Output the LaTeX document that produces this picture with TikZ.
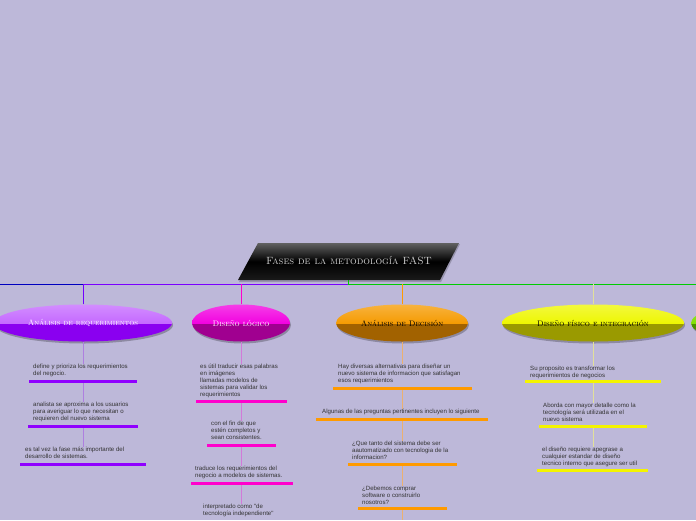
\documentclass[tikz,border=0pt]{standalone}
\usepackage{fontspec}
\usetikzlibrary{shapes.geometric}
\newfontfamily\subfont{Liberation Sans}
\definecolor{bg}{HTML}{BDB8D9}
\definecolor{purA}{HTML}{C468FF}
\definecolor{purB}{HTML}{8A00F0}
\definecolor{purL}{HTML}{9000FF}
\definecolor{purC}{HTML}{AE7FE0}
\definecolor{magA}{HTML}{F200E0}
\definecolor{magB}{HTML}{A00090}
\definecolor{magL}{HTML}{FF00CC}
\definecolor{magC}{HTML}{D27AD8}
\definecolor{oraA}{HTML}{F59A00}
\definecolor{oraB}{HTML}{A26200}
\definecolor{oraL}{HTML}{FF9A00}
\definecolor{oraC}{HTML}{EBB070}
\definecolor{yelA}{HTML}{EEF600}
\definecolor{yelB}{HTML}{9A9A00}
\definecolor{yelL}{HTML}{F4F400}
\definecolor{yelC}{HTML}{E2E09A}
\definecolor{grnA}{HTML}{80E000}
\definecolor{grnB}{HTML}{4A9000}
\definecolor{txt}{HTML}{333333}
\tikzset{
  sub/.style={anchor=north west,inner sep=0pt,align=left,text=txt,
    font=\subfont\fontsize{6.1}{7}\selectfont},
  ulpur/.style={line width=3pt,purL},
  ulmag/.style={line width=3pt,magL},
  ulora/.style={line width=3pt,oraL},
  ulyel/.style={line width=3pt,yelL},
  cpur/.style={line width=1pt,purC},
  cmag/.style={line width=1pt,magC},
  cora/.style={line width=1pt,oraC},
  cyel/.style={line width=1pt,yelC},
  ovaltext/.style={font=\fontsize{8}{9}\selectfont\scshape},
}
\newcommand\phaseoval[8]{%
  \fill[black,opacity=0.25] (#2+1,-325) ellipse [x radius=#3, y radius=18.5];
  \begin{scope}
    \clip (#2,-323) ellipse [x radius=#3, y radius=18.5];
    \shade[top color=#4!75!white,bottom color=#4] (#2-#3,-304) rectangle (#2+#3,-324);
    \fill[#5] (#2-#3,-324) rectangle (#2+#3,-342);
  \end{scope}
  \node[ellipse,minimum width={2*#3},minimum height=37,inner sep=0pt,text=#6,ovaltext] (#1) at (#2,-323) {#7};
  \draw[line width=1pt,#8] (#1.north) -- (#1.north |- top);
}
\begin{document}
\begin{tikzpicture}[x=1pt,y=1pt]
\useasboundingbox (0,0) rectangle (696,-520);
\clip (0,0) rectangle (696,-520);
\fill[bg] (0,0) rectangle (696,-520);
% title
\fill[black,opacity=0.2] (259,-244) -- (460,-244) -- (441,-282) -- (239,-282) -- cycle;
\shade[top color=black!62,bottom color=black!90,middle color=black] (258,-243) -- (459,-243) -- (440,-280) -- (238,-280) -- cycle;
\node[text=black!18,font=\fontsize{10.5}{12}\selectfont\scshape] (title) at (349,-261) {Fases de la metodología FAST};
\coordinate (top) at (348,-284);
\coordinate (tb) at (348,-280);
% main lines
\draw[line width=1pt,blue!75!black] (0,-284) -- (83,-284);
\draw[line width=1pt,purL!85!blue] (83,-284) -- (top);
\draw[line width=1pt,green!80!black] (tb) -- (top) -- (696,-284);
% ovals
\phaseoval{e1}{83}{89}{purA}{purB}{white}{Análisis de requerimientos}{purL!80!blue}
\phaseoval{e2}{241}{49}{magA}{magB}{white}{Diseño lógico}{magL}
\phaseoval{e3}{402}{66}{oraA}{oraB}{black}{Análisis de Decisión}{oraL}
\phaseoval{e4}{593}{91}{yelA}{yelB}{black}{Diseño físico e integración}{yelC}
\phaseoval{e5}{756}{65}{grnA}{grnB}{black}{}{green!80!black}
% branch 1
\node[sub] (t11) at (33,-364) {define y prioriza los requerimientos\\del negocio.};
\node[sub] (t12) at (33,-402) {analista se aproxima a los usuarios\\para averiguar lo que necesitan o\\requieren del nuevo sistema};
\node[sub] (t13) at (25,-447) {es tal vez la fase más importante del\\desarrollo de sistemas.};
\coordinate (u11) at (83,-381); \coordinate (u12) at (83,-426); \coordinate (u13) at (83,-464);
\draw[cpur] (e1.south) -- (e1.south |- t11.north);
\draw[cpur] (u11) -- (u11 |- t12.north);
\draw[cpur] (u12) -- (u12 |- t13.north);
\draw[ulpur] (29,-381) -- (137,-381);
\draw[ulpur] (28,-426) -- (138,-426);
\draw[ulpur] (20,-464) -- (146,-464);
% branch 2
\node[sub] (t21) at (200,-364) {es útil traducir esas palabras\\en imágenes\\llamadas modelos de\\sistemas para validar los\\requerimientos};
\node[sub] (t22) at (211,-421) {con el fin de que\\estén completos y\\sean consistentes.};
\node[sub] (t23) at (195,-466) {traduce los requerimientos del\\negocio a modelos de sistemas.};
\node[sub] (t24) at (203,-504) {interpretado como "de\\tecnología independiente"};
\coordinate (u21) at (241,-401); \coordinate (u22) at (241,-445); \coordinate (u23) at (241,-483);
\draw[cmag] (e2.south) -- (e2.south |- t21.north);
\draw[cmag] (u21) -- (u21 |- t22.north);
\draw[cmag] (u22) -- (u22 |- t23.north);
\draw[cmag] (u23) -- (u23 |- t24.north);
\draw[ulmag] (196,-401) -- (287,-401);
\draw[ulmag] (207,-445) -- (276,-445);
\draw[ulmag] (191,-483) -- (293,-483);
% branch 3
\node[sub] (t31) at (338,-364) {Hay diversas alternativas para diseñar un\\nuevo sistema de informacion que satisfagan\\esos requerimientos};
\node[sub] (t32) at (322,-409) {Algunas de las preguntas pertinentes incluyen lo siguiente};
\node[sub] (t33) at (352,-441) {¿Que tanto del sistema debe ser\\aautomatizado con tecnologia de la\\informacion?};
\node[sub] (t34) at (362,-486) {¿Debemos comprar\\software o construirlo\\nosotros?};
\coordinate (u31) at (402,-388); \coordinate (u32) at (402,-419); \coordinate (u33) at (402,-464); \coordinate (u34) at (402,-508);
\coordinate (b3) at (402,-520);
\draw[cora] (e3.south) -- (e3.south |- t31.north);
\draw[cora] (u31) -- (u31 |- t32.north);
\draw[cora] (u32) -- (u32 |- t33.north);
\draw[cora] (u33) -- (u33 |- t34.north);
\draw[cora] (u34) -- (b3);
\draw[ulora] (333,-388) -- (472,-388);
\draw[ulora] (316,-419) -- (488,-419);
\draw[ulora] (348,-464) -- (457,-464);
\draw[ulora] (358,-508) -- (447,-508);
% branch 4
\node[sub] (t41) at (530,-366) {Su proposito es transformar los\\requerimientos de negocios};
\node[sub] (t42) at (543,-403) {Aborda con mayor detalle como la\\tecnología será utilizada en el\\nuevo sistema};
\node[sub] (t43) at (542,-447) {el diseño requiere apegrase a\\cualquier estandar de diseño\\tecnico interno que asegure ser util};
\coordinate (u41) at (593,-381); \coordinate (u42) at (593,-426); \coordinate (u43) at (593,-470);
\draw[cyel] (e4.south) -- (e4.south |- t41.north);
\draw[cyel] (u41) -- (u41 |- t42.north);
\draw[cyel] (u42) -- (u42 |- t43.north);
\draw[ulyel] (525,-381) -- (661,-381);
\draw[ulyel] (539,-426) -- (647,-426);
\draw[ulyel] (537,-470) -- (648,-470);
\end{tikzpicture}
\end{document}
